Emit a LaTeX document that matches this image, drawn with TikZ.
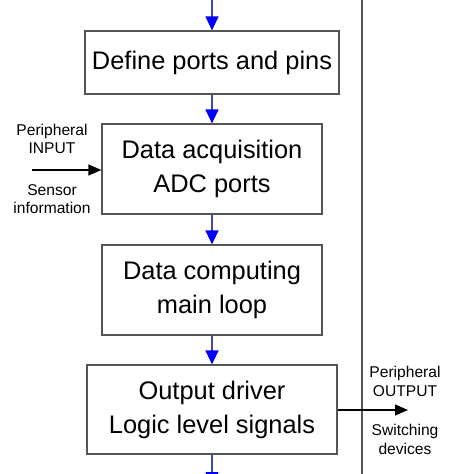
\documentclass[tikz,border=0pt]{standalone}
\usepackage{fontspec}
\setmainfont{Liberation Sans}
\usetikzlibrary{arrows.meta}
\definecolor{lineblue}{RGB}{70,70,175}
\definecolor{edgegray}{RGB}{85,85,85}
\tikzset{
  box/.style={draw=edgegray, line width=1.2pt, fill=white, align=center, inner sep=0pt,
    font=\fontsize{25.4}{34}\selectfont},
  flow/.style={draw=lineblue, line width=1.2pt, -{Triangle[length=14pt,width=13pt,fill=blue,color=blue]}},
  io/.style={draw=black, line width=1.2pt, -{Triangle[length=13pt,width=11pt]}},
  lbl/.style={align=center, inner sep=0pt, font=\fontsize{15.6}{18}\selectfont}
}
\begin{document}
\begin{tikzpicture}[x=1pt,y=-1pt]
\useasboundingbox (0,0) rectangle (474,474);
\fill[white] (0,0) rectangle (474,474);
% vertical separator
\coordinate (vt) at (362,0);
\coordinate (vb) at (362,474);
\draw[edgegray, line width=1.2pt] (vt) -- (vb);
% boxes
\node[box, minimum width=254pt, minimum height=63pt] (b1) at (212,62.5) {Define ports and pins};
\node[box, minimum width=220pt, minimum height=90pt] (b2) at (212,169) {Data acquisition\\ADC ports};
\node[box, minimum width=220pt, minimum height=90pt] (b3) at (212,290) {Data computing\\main loop};
\node[box, minimum width=250pt, minimum height=89pt] (b4) at (212,409.5) {Output driver\\Logic level signals};
% flow arrows
\coordinate (top) at (212,0);
\coordinate (bot) at (212,486);
\draw[flow] (top) -- (b1.north);
\draw[flow] (b1.south) -- (b2.north);
\draw[flow] (b2.south) -- (b3.north);
\draw[flow] (b3.south) -- (b4.north);
\draw[flow] (b4.south) -- (bot);
% input
\coordinate (inS) at (32,170);
\draw[io] (inS) -- (b2.west |- inS);
\node[lbl] (pin1) at (52,131) {Peripheral};
\node[lbl] (pin2) at (52,148) {INPUT};
\node[lbl] (sen1) at (52,190) {Sensor};
\node[lbl] (sen2) at (52,208) {information};
% output
\coordinate (outE) at (408,410);
\draw[io] (b4.east |- outE) -- (outE);
\node[lbl] (pout1) at (405,373) {Peripheral};
\node[lbl] (pout2) at (405,391) {OUTPUT};
\node[lbl] (sw1) at (405,431) {Switching};
\node[lbl] (sw2) at (405,449) {devices};
\end{tikzpicture}
\end{document}
